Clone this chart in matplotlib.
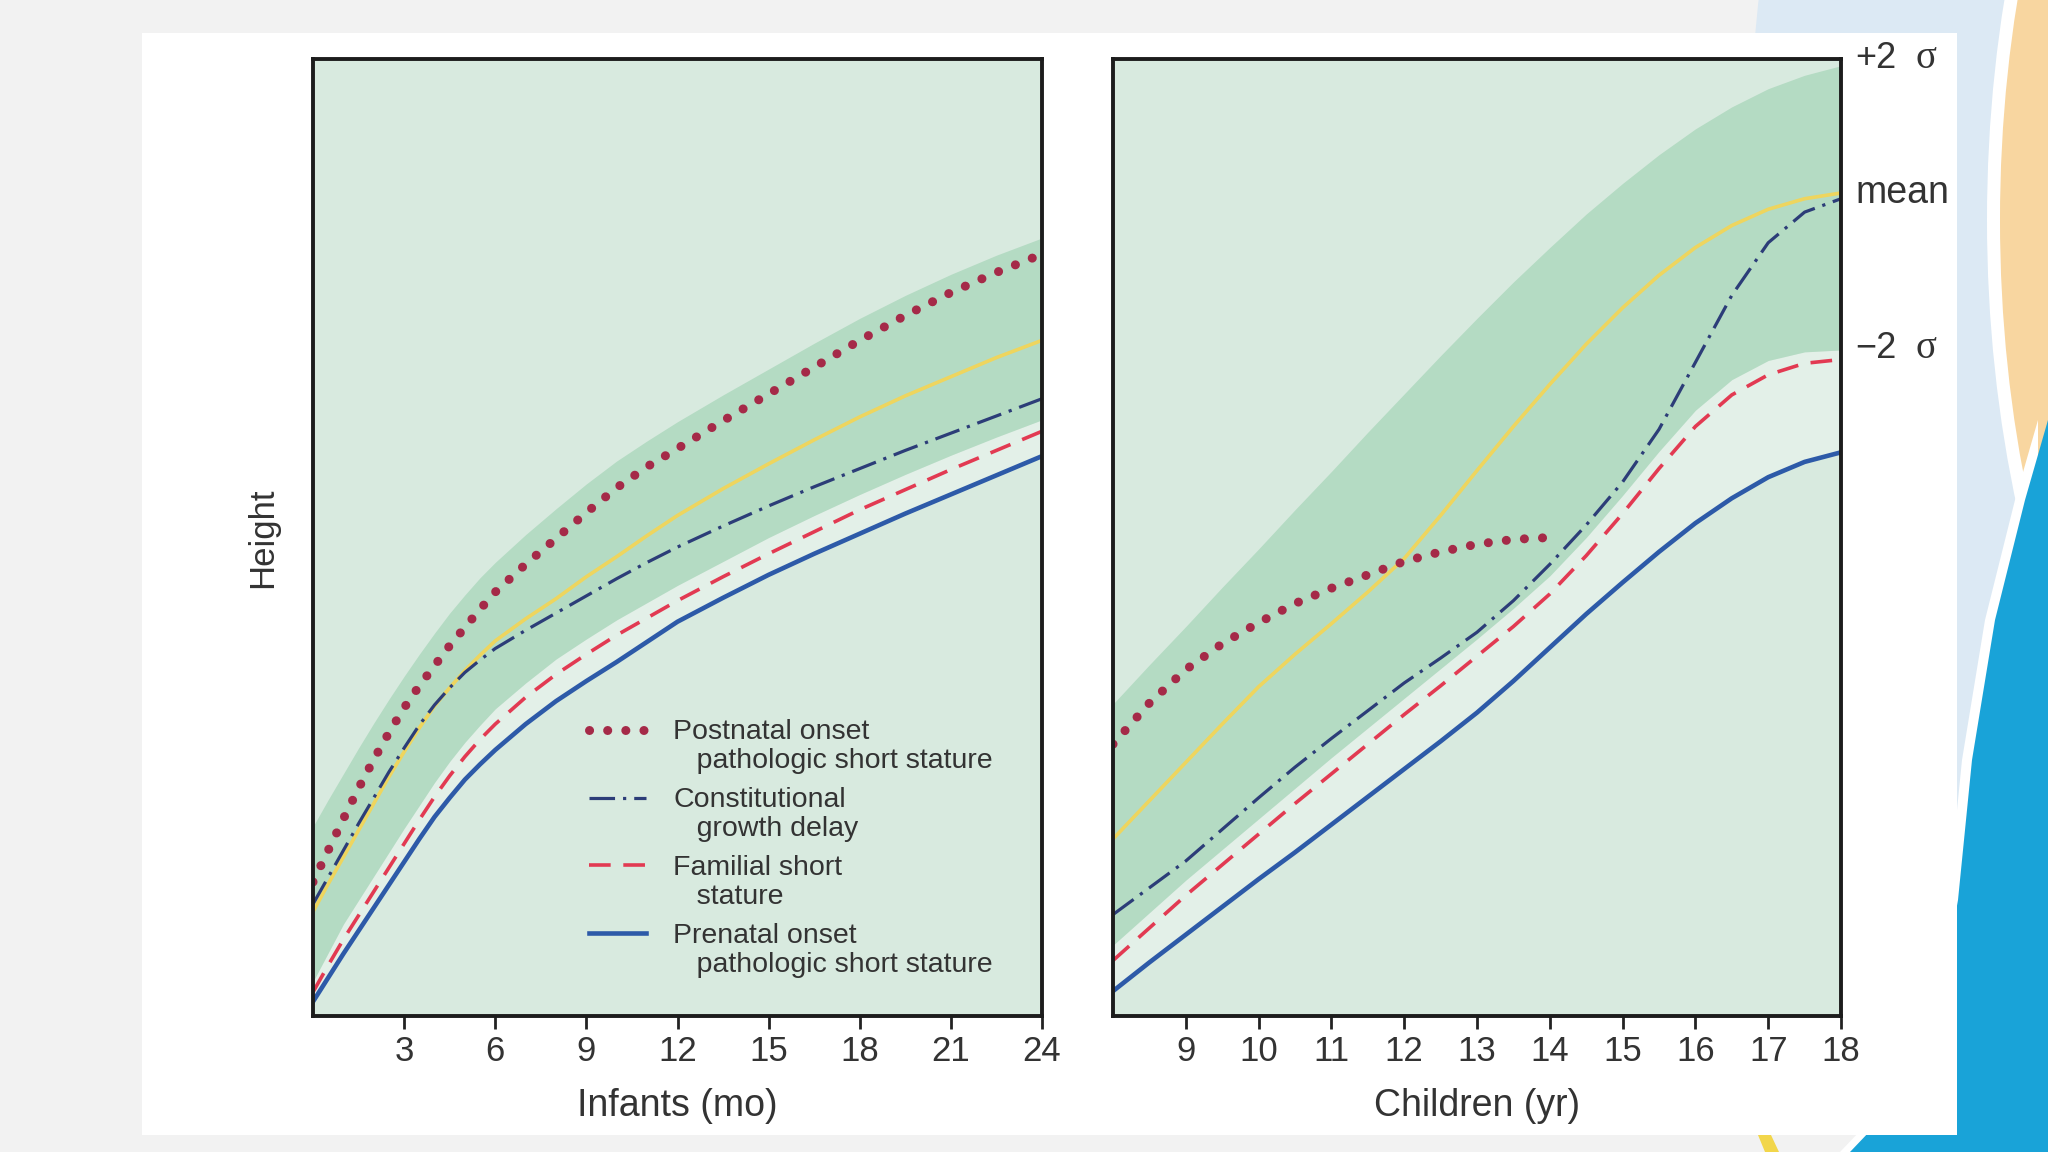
import matplotlib
matplotlib.use("Agg")
import matplotlib.pyplot as plt
from matplotlib.patches import Rectangle, Ellipse, Polygon
from matplotlib.lines import Line2D
from matplotlib.legend_handler import HandlerLine2D

plt.rcParams['font.family'] = ['Liberation Sans', 'DejaVu Sans']

# ---------------- data (height in % of the chart's vertical range) ----------------
infant_months = [0, 0.5, 1, 1.5, 2, 2.5, 3, 3.5, 4, 4.5, 5, 5.5, 6, 7, 8, 9, 10, 11, 12,
                 13.5, 15, 16.5, 18, 19.5, 21, 22.5, 24]
inf_band_hi   = [19.8, 22.6, 25.3, 28.0, 30.6, 33.1, 35.5, 37.8, 40.0, 42.1, 44.0, 45.8, 47.4,
                 50.3, 53.0, 55.6, 58.0, 60.1, 62.1, 64.9, 67.6, 70.3, 72.9, 75.3, 77.5, 79.5, 81.3]
inf_band_lo   = [3.6, 6.6, 9.6, 12.1, 14.6, 17.1, 19.6, 22.0, 24.4, 26.6, 28.6, 30.4, 32.1,
                 34.8, 37.3, 39.4, 41.4, 43.2, 45.0, 47.5, 50.0, 52.3, 54.5, 56.6, 58.6, 60.5, 62.3]
inf_mean      = [10.9, 13.8, 16.6, 19.4, 22.2, 25.0, 27.6, 30.1, 32.4, 34.3, 36.1, 37.7, 39.2,
                 41.5, 43.6, 45.9, 48.0, 50.2, 52.3, 55.1, 57.7, 60.2, 62.6, 64.8, 66.8, 68.8, 70.6]
inf_postnatal = [14.0, 17.3, 20.6, 23.8, 26.8, 29.6, 32.2, 34.5, 36.6, 38.7, 40.6, 42.5, 44.3,
                 47.2, 49.9, 52.6, 55.2, 57.4, 59.3, 62.2, 65.0, 67.8, 70.6, 73.2, 75.6, 77.7, 79.6]
inf_constit   = [11.7, 14.5, 17.3, 20.1, 22.8, 25.5, 28.0, 30.4, 32.5, 34.3, 35.9, 37.2, 38.4,
                 40.3, 42.1, 43.9, 45.7, 47.4, 49.0, 51.2, 53.3, 55.3, 57.2, 59.1, 60.9, 62.7, 64.5]
inf_familial  = [2.5, 5.3, 8.0, 10.5, 13.0, 15.5, 18.0, 20.5, 22.9, 25.1, 27.1, 28.9, 30.5,
                 33.3, 35.7, 37.8, 39.8, 41.6, 43.4, 45.9, 48.3, 50.6, 52.9, 55.0, 57.1, 59.1, 61.1]
inf_prenatal  = [1.5, 4.0, 6.5, 8.9, 11.3, 13.7, 16.1, 18.5, 20.8, 22.8, 24.7, 26.3, 27.8,
                 30.5, 32.9, 35.0, 37.0, 39.1, 41.2, 43.7, 46.1, 48.3, 50.4, 52.5, 54.5, 56.5, 58.5]

child_years   = [8, 8.5, 9, 9.5, 10, 10.5, 11, 11.5, 12, 12.5, 13, 13.5, 14, 14.5, 15, 15.5,
                 16, 16.5, 17, 17.5, 18]
ch_band_hi    = [32.6, 36.7, 40.7, 44.8, 48.8, 52.9, 56.9, 61.0, 65.0, 69.0, 72.9, 76.7, 80.3,
                 83.8, 87.0, 90.0, 92.7, 95.0, 96.9, 98.3, 99.3]
ch_band_lo    = [7.4, 10.8, 14.2, 17.4, 20.6, 23.8, 27.0, 30.1, 33.2, 36.3, 39.4, 42.6, 46.0,
                 50.0, 54.4, 59.0, 63.3, 66.5, 68.5, 69.4, 69.6]
ch_mean       = [18.5, 22.5, 26.5, 30.5, 34.4, 37.8, 41.0, 44.3, 47.8, 52.3, 57.0, 61.6, 66.0,
                 70.2, 74.0, 77.4, 80.3, 82.6, 84.3, 85.4, 86.0]
ch_constit    = [10.6, 13.4, 16.2, 19.5, 22.8, 26.0, 29.0, 31.9, 34.8, 37.4, 40.1, 43.4, 47.2,
                 51.3, 55.8, 61.3, 68.3, 75.3, 80.8, 84.0, 85.4]
ch_familial   = [5.8, 9.2, 12.6, 15.8, 19.0, 22.2, 25.3, 28.4, 31.5, 34.5, 37.6, 40.7, 44.1,
                 48.1, 52.5, 57.2, 61.6, 64.9, 67.0, 68.2, 68.6]
ch_prenatal   = [2.6, 5.6, 8.5, 11.4, 14.3, 17.1, 20.0, 22.9, 25.8, 28.7, 31.7, 35.0, 38.5,
                 42.0, 45.3, 48.5, 51.5, 54.1, 56.3, 57.9, 58.9]
postnatal_years = [8, 8.5, 9, 9.5, 10, 10.5, 11, 11.5, 12, 12.5, 13, 13.5, 14]
ch_postnatal    = [28.4, 32.7, 36.2, 38.9, 41.1, 43.1, 44.7, 46.1, 47.5, 48.5, 49.3, 49.8, 50.0]

infant_ticks = [3, 6, 9, 12, 15, 18, 21, 24]
child_ticks = [9, 10, 11, 12, 13, 14, 15, 16, 17, 18]
sd_labels = ["+2", "mean", "\u22122"]
sd_levels = [100, 86, 69.8]

legend_labels = ["Postnatal onset\n   pathologic short stature",
                 "Constitutional\n   growth delay",
                 "Familial short\n   stature",
                 "Prenatal onset\n   pathologic short stature"]

# ---------------- styles ----------------
BG = '#d8eadf'
BAND = '#b4dbc3'
LIGHT = '#e3f0e8'
TXT = '#333333'
sty_post = dict(color='#a52a48', lw=6.5, ls=(0, (0.01, 2.0)), dash_capstyle='round')
sty_const = dict(color='#2c3d78', lw=2.3, ls=(0, (8, 2.5, 1, 2.5)))
sty_fam = dict(color='#e23a52', lw=2.6, ls=(0, (6, 3.5)))
sty_pre = dict(color='#2d5aa8', lw=3.3, ls='-')
sty_mean = dict(color='#eed55e', lw=2.6, ls='-')

fig = plt.figure(figsize=(20.48, 11.52), dpi=100)
fig.patch.set_facecolor('#f2f2f2')

# slide decoration
bg = fig.add_axes([0, 0, 1, 1])
bg.set_xlim(0, 2048)
bg.set_ylim(1152, 0)
bg.axis('off')
bg.add_patch(Ellipse((2300, 150), 1100, 1700, color='#dce9f4', lw=0))
bg.add_patch(Ellipse((2392, 220), 810, 1520, color='white', lw=0))
bg.add_patch(Ellipse((2392, 220), 784, 1490, color='#f8d6a0', lw=0))
blue_pts = [(2048, 420), (2025, 500), (1995, 620), (1972, 760), (1958, 900),
            (1935, 1030), (1890, 1110), (1850, 1152), (2048, 1152)]
bg.add_patch(Polygon([(x - 10, y) for x, y in blue_pts], closed=True, color='white', lw=0))
bg.add_patch(Polygon(blue_pts, closed=True, color='#19a3d8', lw=0))
bg.add_patch(Polygon([(1758, 1135), (1771, 1135), (1779, 1152), (1765, 1152)], color='#f2d64b', lw=0))
bg.add_patch(Rectangle((142, 33), 1815, 1102, color='white', lw=0))

axL = fig.add_axes([313 / 2048, (1152 - 1016) / 1152, 729 / 2048, 957 / 1152])
axR = fig.add_axes([1113 / 2048, (1152 - 1016) / 1152, 728 / 2048, 957 / 1152])


def style_axes(ax, xlim, ticks):
    ax.set_facecolor(BG)
    ax.set_xlim(*xlim)
    ax.set_ylim(0, 100)
    ax.set_yticks([])
    ax.set_xticks(ticks)
    ax.tick_params(axis='x', direction='out', length=9, width=2, color='#222222',
                   labelsize=25, labelcolor=TXT, pad=5)
    for s in ax.spines.values():
        s.set_linewidth(2.8)
        s.set_color('#1c1c1c')
        s.set_zorder(10)


def draw_panel(ax, x, hi, lo, mean, const, fam, pre, px, post):
    ax.fill_between(x, pre, lo, color=LIGHT, lw=0, zorder=1)
    ax.fill_between(x, lo, hi, color=BAND, lw=0, zorder=1)
    ax.plot(x, mean, zorder=3, **sty_mean)
    ax.plot(x, pre, zorder=4, **sty_pre)
    ax.plot(x, fam, zorder=4, **sty_fam)
    ax.plot(x, const, zorder=5, **sty_const)
    ax.plot(px, post, zorder=6, **sty_post)


style_axes(axL, (0, 24), infant_ticks)
style_axes(axR, (8, 18), child_ticks)
draw_panel(axL, infant_months, inf_band_hi, inf_band_lo, inf_mean, inf_constit,
           inf_familial, inf_prenatal, infant_months, inf_postnatal)
draw_panel(axR, child_years, ch_band_hi, ch_band_lo, ch_mean, ch_constit,
           ch_familial, ch_prenatal, postnatal_years, ch_postnatal)

axL.set_xlabel('Infants (mo)', fontsize=27, color=TXT)
axL.xaxis.set_label_coords(0.5, -0.075)
axL.xaxis.label.set_va('top')
axR.set_xlabel('Children (yr)', fontsize=27, color=TXT)
axR.xaxis.set_label_coords(0.5, -0.075)
axR.xaxis.label.set_va('top')
axL.set_ylabel('Height', fontsize=25, color=TXT)
axL.yaxis.set_label_coords(-0.047, 0.5)

# right-hand SD labels
for lab, lev in zip(sd_labels, sd_levels):
    axR.annotate(lab, xy=(1.02, lev), xycoords=('axes fraction', 'data'),
                 fontsize=27 if lab == 'mean' else 26, color=TXT, va='center', ha='left',
                 annotation_clip=False)
    if lab != 'mean':
        axR.annotate('\u03c3', xy=(1.02, lev), xycoords=('axes fraction', 'data'),
                     xytext=(43, 0), textcoords='offset points', family='Liberation Serif',
                     fontsize=28, color=TXT, va='center', ha='left', annotation_clip=False)

handles = [Line2D([], [], **sty_post), Line2D([], [], **sty_const),
           Line2D([], [], **sty_fam), Line2D([], [], **sty_pre)]


class UpHandler(HandlerLine2D):
    def create_artists(self, legend, orig_handle, xdescent, ydescent, width, height, fontsize, trans):
        arts = super().create_artists(legend, orig_handle, xdescent, ydescent, width, height, fontsize, trans)
        for a in arts:
            yd = a.get_ydata()
            a.set_ydata([v + 0.6 * fontsize for v in yd])
        return arts


leg = axL.legend(handles, legend_labels, loc='upper left', bbox_to_anchor=(0.367, 0.31),
                 frameon=False, fontsize=20.5, handlelength=2.6, handletextpad=0.65,
                 labelspacing=0.45, borderpad=0, borderaxespad=0,
                 handler_map={Line2D: UpHandler(numpoints=2)})
for t in leg.get_texts():
    t.set_color(TXT)
    t.set_linespacing(1.15)

fig.savefig('out.png', dpi=100, facecolor=fig.get_facecolor())
